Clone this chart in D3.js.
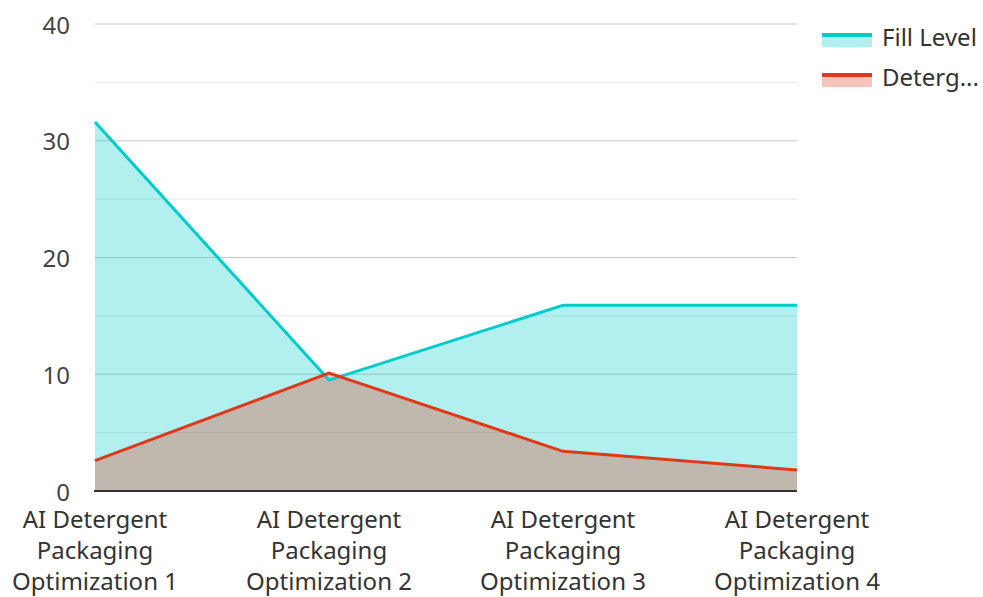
<!DOCTYPE html>
<html>
<head>
<meta charset="utf-8">
<script src="https://cdn.jsdelivr.net/npm/d3@7"></script>
<style>
  html, body { margin: 0; padding: 0; background: #fff; }
  svg { display: block; font-family: "Noto Sans", "Open Sans", sans-serif; }
</style>
</head>
<body>
<svg id="chart" width="983" height="597"></svg>
<script>
const categories = [
  "AI Detergent Packaging Optimization 1",
  "AI Detergent Packaging Optimization 2",
  "AI Detergent Packaging Optimization 3",
  "AI Detergent Packaging Optimization 4"
];
const categoryLines = [
  ["AI Detergent", "Packaging", "Optimization 1"],
  ["AI Detergent", "Packaging", "Optimization 2"],
  ["AI Detergent", "Packaging", "Optimization 3"],
  ["AI Detergent", "Packaging", "Optimization 4"]
];
const fillLevel = [31.6, 9.5, 15.9, 15.9];
const detergent = [2.6, 10.1, 3.4, 1.8];
const seriesNames = ["Fill Level", "Deterg..."];
const seriesColors = ["#00cccc", "#e0391a"];
const majorTicks = [0, 10, 20, 30, 40];
const minorTicks = [5, 15, 25, 35];

const svg = d3.select("#chart");
const x = d3.scalePoint().domain(categories).range([95, 797]);
const y = d3.scaleLinear().domain([0, 40]).range([491, 24]);
const FS = 24;

// gridlines
svg.append("g").selectAll("line").data(minorTicks).join("line")
  .attr("x1", 95).attr("x2", 797)
  .attr("y1", d => y(d)).attr("y2", d => y(d))
  .attr("stroke", "#e6e6e6").attr("stroke-width", 1);
svg.append("g").selectAll("line").data(majorTicks.filter(d => d !== 0)).join("line")
  .attr("x1", 95).attr("x2", 797)
  .attr("y1", d => y(d)).attr("y2", d => y(d))
  .attr("stroke", "#c8c8c8").attr("stroke-width", 1);

// y tick labels
svg.append("g").selectAll("text").data(majorTicks).join("text")
  .attr("x", 70).attr("y", d => y(d))
  .attr("text-anchor", "end").attr("dominant-baseline", "central")
  .attr("font-size", FS).attr("fill", "#444")
  .text(d => d);

const series = [fillLevel, detergent];
const area = d3.area().x((d, i) => x(categories[i])).y0(y(0)).y1(d => y(d));
const line = d3.line().x((d, i) => x(categories[i])).y(d => y(d));

series.forEach((s, k) => {
  svg.append("path").datum(s).attr("d", area)
    .attr("fill", seriesColors[k]).attr("fill-opacity", 0.3);
});
series.forEach((s, k) => {
  svg.append("path").datum(s).attr("d", line)
    .attr("fill", "none").attr("stroke", seriesColors[k])
    .attr("stroke-width", 3).attr("stroke-linejoin", "miter");
});

// baseline
svg.append("line").attr("x1", 94).attr("x2", 797)
  .attr("y1", y(0)).attr("y2", y(0))
  .attr("stroke", "#333").attr("stroke-width", 2);

// x labels
const xl = svg.append("g").selectAll("text").data(categories).join("text")
  .attr("text-anchor", "middle").attr("font-size", FS).attr("fill", "#333")
  .attr("x", d => x(d)).attr("y", 528);
xl.each(function(d, i) {
  d3.select(this).selectAll("tspan").data(categoryLines[i]).join("tspan")
    .attr("x", x(d)).attr("dy", (t, j) => j === 0 ? 0 : 31).text(t => t);
});

// legend
const lg = svg.append("g");
seriesNames.forEach((n, k) => {
  const cy = 35 + k * 40;
  lg.append("rect").attr("x", 822).attr("y", cy + 1).attr("width", 50).attr("height", 11)
    .attr("fill", seriesColors[k]).attr("fill-opacity", 0.3);
  lg.append("rect").attr("x", 822).attr("y", cy - 2).attr("width", 50).attr("height", 4)
    .attr("fill", seriesColors[k]);
  lg.append("text").attr("x", 882).attr("y", cy + 1)
    .attr("dominant-baseline", "central").attr("font-size", FS).attr("fill", "#333")
    .text(n);
});
</script>
</body>
</html>
